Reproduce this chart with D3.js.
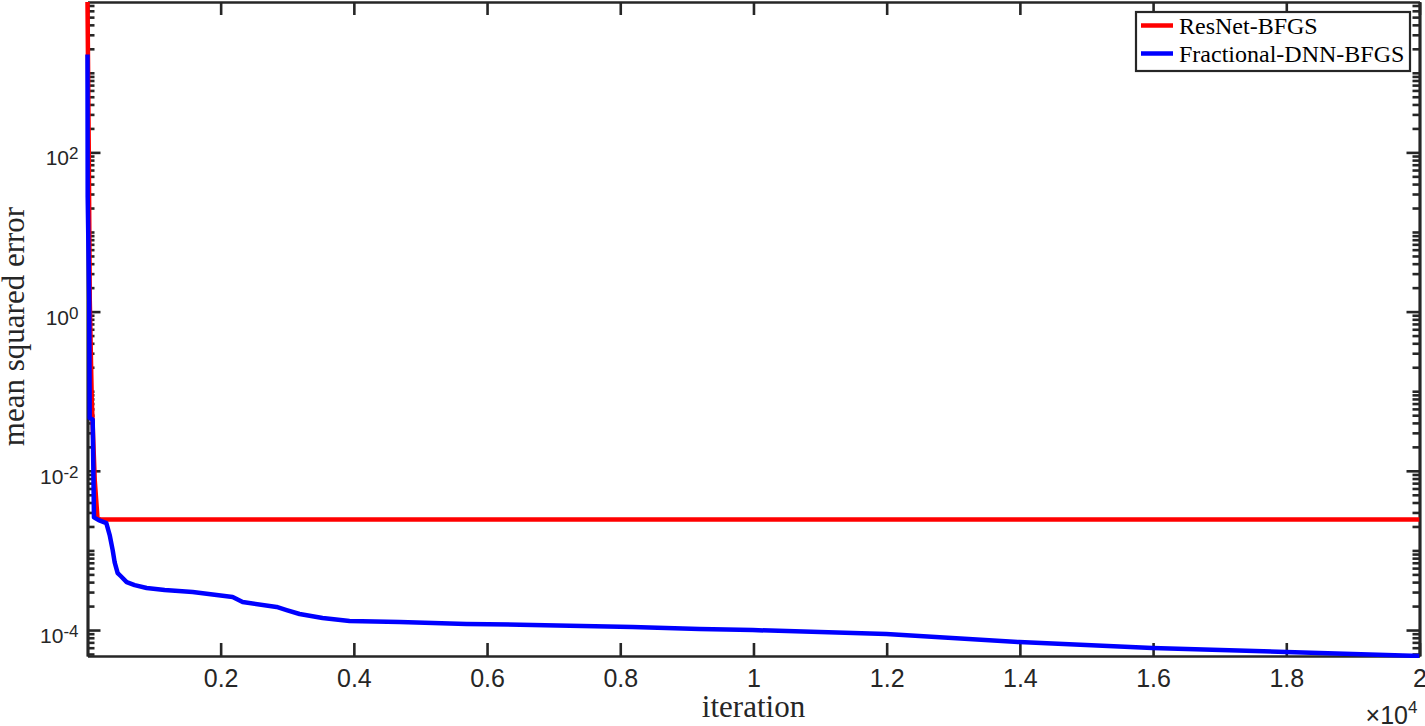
<!DOCTYPE html>
<html><head>
<meta charset="utf-8">
<title>mean squared error vs iteration</title>
<script src="https://d3js.org/d3.v7.min.js"></script>
<style>
  body { margin: 0; background: #fff; }
</style>
</head>
<body>
<div id="chart"></div>

<script>
    const svgWidth = 1425;
    const svgHeight = 726;
    const plot = {left: 87.5, right: 1419.5, top: 2, bottom: 656};
    const axisColor = "#262626";

    // ResNet-BFGS (red)
    const resnetIter = [1, 20, 35, 65, 110, 150, 185, 1000, 5000, 10000, 15000, 20000];
    const resnetMse  = [7745, 106, 1.39, 0.077, 0.0076, 0.00262, 0.00245, 0.00245, 0.00245, 0.00245, 0.00245, 0.00245];

    // Fractional-DNN-BFGS (blue)
    const fracIter = [1, 4, 27, 34, 79, 98, 169, 284, 334, 379, 409, 454, 499, 589, 709, 889, 1159, 1580, 1940, 2180,
                      2330, 2840, 2990, 3185, 3530, 3935, 4690, 5690, 6680, 8185, 9190, 9990, 11995, 13990, 15990,
                      18000, 20000];
    const fracMse  = [1700, 27.5, 1.39, 0.046, 0.044, 0.0026, 0.0024, 0.0022, 0.00156, 1.01e-3, 7.1e-4, 5.2e-4,
                      4.77e-4, 4.0e-4, 3.67e-4, 3.37e-4, 3.18e-4, 3.0e-4, 2.75e-4, 2.6e-4, 2.25e-4, 1.95e-4,
                      1.78e-4, 1.59e-4, 1.42e-4, 1.30e-4, 1.26e-4, 1.19e-4, 1.16e-4, 1.09e-4, 1.03e-4, 1.0e-4,
                      8.9e-5, 7.06e-5, 5.94e-5, 5.3e-5, 4.72e-5];

    const seriesNames  = ["ResNet-BFGS", "Fractional-DNN-BFGS"];
    const seriesColors = ["#ff0000", "#0000ff"];

    const xTickValues = [2000, 4000, 6000, 8000, 10000, 12000, 14000, 16000, 18000, 20000];
    const xTickLabels = ["0.2", "0.4", "0.6", "0.8", "1", "1.2", "1.4", "1.6", "1.8", "2"];
    const yTickValues = [1e-4, 1e-2, 1, 1e2];
    const yTickExps   = ["-4", "-2", "0", "2"];

    const series = [
        resnetIter.map((x, i) => ({x: x, y: resnetMse[i]})),
        fracIter.map((x, i) => ({x: x, y: fracMse[i]}))
    ];

    const svg = d3.select("#chart").append("svg")
        .attr("width", svgWidth)
        .attr("height", svgHeight)
        .style("background", "#fff");

    const xScale = d3.scaleLinear()
        .domain(d3.extent(resnetIter.concat(fracIter)))
        .range([plot.left, plot.right]);
    const yScale = d3.scaleLog()
        .domain(d3.extent(resnetMse.concat(fracMse)))
        .range([plot.bottom, plot.top]);

    // axes (ticks point inward, box on all 4 sides)
    const majorLen = 13, minorLen = 7;
    const yMinor = yScale.ticks(20).filter(v => !yTickValues.some(m => Math.abs(Math.log10(m) - Math.log10(v)) < 1e-9));

    function styleAxis(g) {
        g.selectAll("path.domain").attr("stroke", axisColor).attr("stroke-width", 2.7);
        g.selectAll(".tick line").attr("stroke", axisColor).attr("stroke-width", 2.6);
        g.selectAll("text").remove();
    }

    const bottomAxis = svg.append("g")
        .attr("transform", "translate(0," + plot.bottom + ")")
        .call(d3.axisBottom(xScale).tickValues(xTickValues).tickSizeInner(-majorLen).tickSizeOuter(0)
            .tickFormat((d, i) => xTickLabels[i]));
    bottomAxis.selectAll("path.domain").attr("stroke", axisColor).attr("stroke-width", 2.7);
    bottomAxis.selectAll(".tick line").attr("stroke", axisColor).attr("stroke-width", 2.6);
    bottomAxis.selectAll("text")
        .attr("y", 31).attr("dy", 0)
        .attr("fill", axisColor)
        .style("font-family", "'Liberation Sans', Arial, sans-serif")
        .style("font-size", "25px");

    svg.append("g")
        .attr("transform", "translate(0," + plot.top + ")")
        .call(d3.axisTop(xScale).tickValues(xTickValues).tickSizeInner(-majorLen).tickSizeOuter(0))
        .call(styleAxis);

    svg.append("g")
        .attr("transform", "translate(" + plot.left + ",0)")
        .call(d3.axisLeft(yScale).tickValues(yTickValues).tickSizeInner(-majorLen).tickSizeOuter(0))
        .call(styleAxis);
    svg.append("g")
        .attr("transform", "translate(" + plot.left + ",0)")
        .call(d3.axisLeft(yScale).tickValues(yMinor).tickSizeInner(-minorLen).tickSizeOuter(0))
        .call(styleAxis);
    svg.append("g")
        .attr("transform", "translate(" + plot.right + ",0)")
        .call(d3.axisRight(yScale).tickValues(yTickValues).tickSizeInner(-majorLen).tickSizeOuter(0))
        .call(styleAxis);
    svg.append("g")
        .attr("transform", "translate(" + plot.right + ",0)")
        .call(d3.axisRight(yScale).tickValues(yMinor).tickSizeInner(-minorLen).tickSizeOuter(0))
        .call(styleAxis);

    // clip for the curves (lines are drawn over the axes, like matlab)
    svg.append("clipPath").attr("id", "plotClip")
        .append("rect")
        .attr("x", plot.left - 2.5).attr("y", 0)
        .attr("width", plot.right - plot.left + 2.5)
        .attr("height", plot.bottom + 2);

    const line = d3.line().x(d => xScale(d.x)).y(d => yScale(d.y));
    const curves = svg.append("g").attr("clip-path", "url(#plotClip)");
    series.forEach((s, i) => {
        curves.append("path")
            .datum(s)
            .attr("fill", "none")
            .attr("stroke", seriesColors[i])
            .attr("stroke-width", 4.5)
            .attr("stroke-linejoin", "round")
            .attr("d", line);
    });

    // y tick labels 10^k
    yTickValues.forEach((v, i) => {
        const t = svg.append("text")
            .attr("x", plot.left - 9)
            .attr("y", yScale(v) + 13)
            .attr("text-anchor", "end")
            .attr("fill", axisColor)
            .style("font-family", "'Liberation Sans', Arial, sans-serif")
            .style("font-size", "21px");
        t.append("tspan").text("10");
        t.append("tspan").attr("dy", -6).style("font-size", "17px").text(yTickExps[i]);
    });

    // x exponent multiplier
    const mult = svg.append("text")
        .attr("x", plot.right - 2)
        .attr("y", 724)
        .attr("text-anchor", "end")
        .attr("fill", axisColor)
        .style("font-family", "'Liberation Sans', Arial, sans-serif")
        .style("font-size", "25px");
    mult.append("tspan").text("\u00d710");
    mult.append("tspan").attr("dy", -11).style("font-size", "17px").text("4");

    // axis labels
    svg.append("text")
        .attr("x", (plot.left + plot.right) / 2)
        .attr("y", 717)
        .attr("text-anchor", "middle")
        .attr("fill", axisColor)
        .style("font-family", "'Liberation Serif', 'Times New Roman', serif")
        .style("font-size", "31px")
        .text("iteration");

    svg.append("text")
        .attr("transform", "translate(24," + 326.5 + ") rotate(-90)")
        .attr("text-anchor", "middle")
        .attr("fill", axisColor)
        .style("font-family", "'Liberation Serif', 'Times New Roman', serif")
        .style("font-size", "31px")
        .text("mean squared error");

    // legend
    const legend = svg.append("g").attr("transform", "translate(1136,12)");
    legend.append("rect")
        .attr("width", 274).attr("height", 59)
        .attr("fill", "#fff")
        .attr("stroke", axisColor)
        .attr("stroke-width", 2.2);
    seriesNames.forEach((name, i) => {
        const yy = 13.5 + i * 28;
        legend.append("line")
            .attr("x1", 5).attr("x2", 37)
            .attr("y1", yy).attr("y2", yy)
            .attr("stroke", seriesColors[i])
            .attr("stroke-width", 4.5);
        legend.append("text")
            .attr("x", 43).attr("y", yy + 8)
            .attr("fill", "#000")
            .style("font-family", "'Liberation Serif', 'Times New Roman', serif")
            .style("font-size", "24px")
            .text(name);
    });
</script>
</body>
</html>
